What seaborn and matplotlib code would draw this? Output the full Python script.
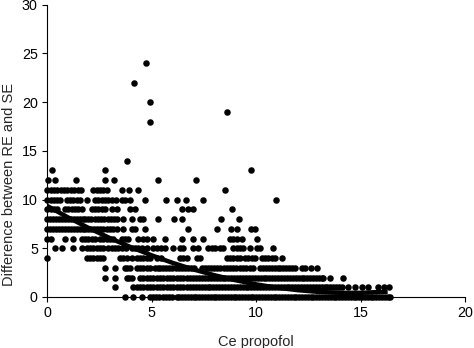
import matplotlib
matplotlib.use("Agg")
import matplotlib.pyplot as plt
import numpy as np
import pandas as pd
import seaborn as sns

# ---- data (x = Ce propofol, grouped by integer y level) ----
x_at_0 = [3.73, 4.13, 4.53, 4.93, 5.07, 5.21, 5.35, 5.57, 5.71, 5.85, 5.99,
          6.2, 6.33, 6.47, 6.6, 6.74, 6.88, 7.01, 7.15, 7.29, 7.42, 7.56, 7.7, 7.83, 7.97,
          8.11, 8.24, 8.38, 8.52, 8.65, 8.79, 8.93, 9.06, 9.2, 9.34, 9.47, 9.61, 9.75, 9.88,
          10.02, 10.16, 10.29, 10.43, 10.57, 10.7, 10.84, 10.98, 11.11, 11.25, 11.39, 11.52,
          11.66, 11.8, 11.93, 12.07, 12.21, 12.34, 12.48, 12.62, 12.75, 12.89, 13.03, 13.16,
          13.3, 13.44, 13.57, 13.71, 13.85, 13.98, 14.12, 14.26, 14.39, 14.53, 14.67, 14.8,
          14.94, 15.08, 15.21, 15.35, 15.49, 15.62, 15.76, 15.9, 16.03, 16.17, 16.31, 16.4]
x_at_1 = [3.25, 4.13, 4.29, 4.45, 4.61, 4.77, 4.93, 5.09, 5.25, 5.41, 5.57, 5.73, 5.89,
          6.05, 6.2, 6.36, 6.52, 6.68, 6.84, 6.98, 7.12, 7.26, 7.4, 7.54, 7.68, 7.82, 7.96,
          8.1, 8.24, 8.38, 8.52, 8.66, 8.8, 8.94, 9.08, 9.22, 9.36, 9.5, 9.64, 9.78, 9.92,
          10.06, 10.2, 10.34, 10.48, 10.62, 10.76, 10.9, 11.04, 11.18, 11.32, 11.46, 11.6,
          11.74, 11.88, 12.02, 12.16, 12.3, 12.44, 12.58, 12.72, 12.86, 13.0, 13.14, 13.28,
          13.42, 13.56, 13.7, 13.84, 13.98, 14.12, 14.42, 14.74, 15.06, 15.37, 15.85, 16.12,
          16.38]
x_at_2 = [2.78, 3.25, 3.81, 3.93, 4.05, 4.45, 4.6, 4.77, 4.93, 5.09, 5.25, 5.41, 5.57,
          5.73, 5.89, 6.05, 6.21, 6.37, 6.53, 6.69, 6.84, 7.0, 7.14, 7.28, 7.42, 7.56, 7.7,
          7.84, 7.98, 8.12, 8.26, 8.4, 8.54, 8.68, 8.82, 8.96, 9.1, 9.24, 9.38, 9.52, 9.66,
          9.8, 9.94, 10.08, 10.22, 10.36, 10.5, 10.64, 10.78, 10.92, 11.06, 11.2, 11.34,
          11.48, 11.62, 11.76, 11.9, 12.04, 12.18, 12.32, 12.46, 12.6, 12.74, 12.88, 13.02,
          13.16, 13.22, 13.54, 14.15]
x_at_3 = [2.78, 3.25, 3.73, 3.85, 3.97, 4.29, 4.45, 4.61, 4.77, 4.93, 5.17, 5.3, 5.41,
          5.55, 5.7, 5.85, 6.0, 6.15, 6.3, 6.45, 6.6, 6.75, 6.9, 7.05, 7.4, 7.55, 7.7, 7.85,
          8.0, 8.15, 8.3, 8.45, 8.6, 8.75, 8.9, 9.05, 9.23, 9.38, 9.54, 9.7, 9.86, 10.19,
          10.33, 10.47, 10.61, 10.75, 10.89, 11.03, 11.17, 11.31, 11.45, 11.59, 11.73, 11.87,
          12.19, 12.34, 12.62, 12.9]
x_at_4 = [0.0, 1.9, 2.06, 2.22, 2.38, 2.54, 2.69, 3.49, 3.65, 3.81, 4.05, 4.29, 4.45,
          4.61, 4.77, 4.93, 5.25, 5.45, 6.36, 6.52, 6.68, 7.16, 7.32, 8.6, 8.76, 8.92, 9.08,
          9.23, 9.47, 9.63, 9.79, 9.95, 10.27, 10.43, 10.59, 10.75, 10.9, 11.23]
x_at_5 = [0.38, 0.7, 1.26, 1.66, 1.9, 2.06, 2.22, 2.38, 2.54, 2.7, 2.9, 3.1, 3.26, 3.42,
          3.58, 3.8, 4.05, 4.21, 4.37, 4.53, 4.77, 5.09, 5.25, 5.44, 5.65, 6.04, 6.36, 6.52,
          7.0, 7.24, 7.72, 7.88, 8.04, 8.28, 8.44, 8.92, 9.08, 9.23, 9.39, 9.71, 10.03,
          10.19, 10.83]
x_at_6 = [0.02, 0.2, 0.86, 1.26, 1.66, 1.82, 1.98, 2.14, 2.3, 2.54, 2.7, 2.86, 3.02,
          3.17, 3.57, 3.73, 3.89, 4.37, 4.6, 4.77, 5.09, 5.65, 6.47, 7.0, 7.45, 8.76, 8.92,
          9.08, 9.31, 10.05]
x_at_7 = [0.02, 0.16, 0.3, 0.44, 0.58, 0.72, 0.86, 1.0, 1.14, 1.28, 1.42, 1.56, 1.7,
          1.84, 1.98, 2.12, 2.26, 2.4, 2.55, 2.7, 2.85, 3.0, 3.15, 3.33, 3.65, 4.05, 4.21,
          4.69, 6.76, 8.12, 8.82, 9.08, 9.75, 9.97]
x_at_8 = [0.02, 0.16, 0.3, 0.44, 0.58, 0.72, 0.86, 1.0, 1.14, 1.28, 1.42, 1.56, 1.7,
          1.84, 1.98, 2.12, 2.3, 2.45, 2.6, 2.75, 2.9, 3.05, 3.2, 3.33, 3.65, 4.05, 4.45,
          4.6, 5.33, 6.08, 6.44, 8.33, 9.2]
x_at_9 = [0.02, 0.18, 0.34, 0.5, 0.86, 1.02, 1.18, 1.34, 1.5, 1.66, 2.14, 2.3, 2.46,
          2.62, 2.78, 3.1, 3.33, 3.97, 4.21, 6.45, 6.76, 7.0, 8.84]
x_at_10 = [0.02, 0.18, 0.34, 0.5, 0.6, 0.94, 1.1, 1.26, 1.42, 1.58, 1.9, 2.3, 2.46,
           2.62, 2.78, 2.94, 3.1, 3.3, 3.57, 3.75, 3.97, 4.69, 5.69, 6.2, 6.64, 7.45, 10.96]
x_at_11 = [0.02, 0.18, 0.34, 0.5, 0.66, 0.82, 0.98, 1.14, 1.3, 1.46, 1.62, 2.22, 2.38,
           2.54, 2.7, 2.88, 3.57, 3.94, 4.37, 8.52]
x_at_12 = [0.03, 0.38, 1.39, 2.78, 3.2, 5.31, 7.13]
x_at_13 = [0.22, 2.78, 9.75]
outlier_x = [3.84, 4.16, 4.72, 4.91, 4.91, 8.6]
outlier_y = [14, 22, 24, 20, 18, 19]

# trend line
curve_x = [0, 1, 2, 3, 4, 5, 6, 7, 8, 9, 10, 11, 12, 13, 14, 15, 16.3]
curve_y = [9.35, 8.17, 7.07, 6.05, 5.12, 4.28, 3.51, 2.83, 2.24, 1.73, 1.30, 0.96,
           0.70, 0.52, 0.43, 0.43, 0.54]

x_ticks = [0, 5, 10, 15, 20]
y_ticks = [0, 5, 10, 15, 20, 25, 30]

levels = [x_at_0, x_at_1, x_at_2, x_at_3, x_at_4, x_at_5, x_at_6, x_at_7, x_at_8,
          x_at_9, x_at_10, x_at_11, x_at_12, x_at_13]
xs, ys = [], []
for lvl, row in enumerate(levels):
    xs.extend(row)
    ys.extend([lvl] * len(row))
xs.extend(outlier_x)
ys.extend(outlier_y)
df = pd.DataFrame({"Ce propofol": xs, "diff": ys})
curve = pd.DataFrame({"x": curve_x, "y": curve_y})

sns.set_style("ticks")
plt.rcParams["font.family"] = ["Liberation Sans", "DejaVu Sans"]

fig = plt.figure(figsize=(4.74, 3.48), dpi=100)
ax = fig.add_axes([47 / 474, 51 / 348, 418 / 474, 292.5 / 348])

sns.scatterplot(data=df, x="Ce propofol", y="diff", ax=ax, color="black", s=22,
                linewidth=0, clip_on=False, zorder=3)
sns.lineplot(data=curve, x="x", y="y", ax=ax, color="black", linewidth=3.2,
             zorder=4, solid_capstyle="butt")

ax.set_xlim(0, 20)
ax.set_ylim(0, 30)
ax.set_xticks(x_ticks)
ax.set_yticks(y_ticks)
ax.set_xlabel("Ce propofol", fontsize=10.5, labelpad=11)
ax.set_ylabel("Difference between RE and SE", fontsize=10.5)
ax.yaxis.set_label_coords(-0.074, 0.385)
ax.tick_params(direction="out", length=3.6, width=0.8, labelsize=10.3, pad=3,
               colors="black")
for s in ["left", "bottom"]:
    ax.spines[s].set_linewidth(0.8)
    ax.spines[s].set_color("black")
sns.despine(ax=ax)

fig.savefig("out.png", dpi=100)
